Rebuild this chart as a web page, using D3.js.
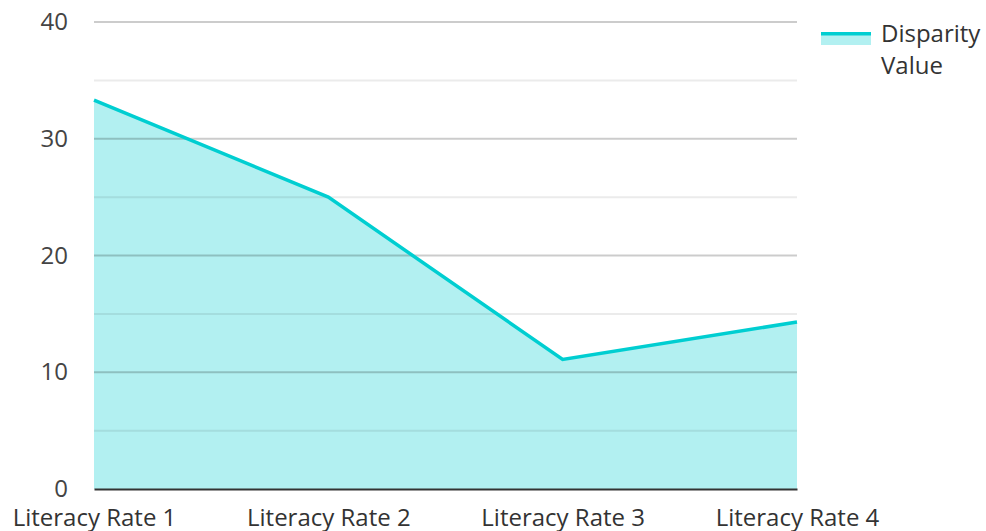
<!DOCTYPE html>
<html>
<head>
<meta charset="utf-8">
<script src="https://cdn.jsdelivr.net/npm/d3@7"></script>
<style>
  body { margin: 0; background: #fff; }
  svg { font-family: "Open Sans", "Noto Sans", sans-serif; }
</style>
</head>
<body>
<svg id="chart" width="986" height="531"></svg>
<script>
const categories = ['Literacy Rate 1', 'Literacy Rate 2', 'Literacy Rate 3', 'Literacy Rate 4'];
const values = [33.3, 25.0, 11.1, 14.3];
const seriesName = ['Disparity', 'Value'];
const majorTicks = [0, 10, 20, 30, 40];
const minorTicks = [5, 15, 25, 35];

const svg = d3.select('#chart');
const margin = { top: 22, bottom: 42, left: 94, right: 189 };
const width = 986, height = 531;
const innerWidth = width - margin.left - margin.right;
const innerHeight = height - margin.top - margin.bottom;

const data = categories.map((c, i) => ({ cat: c, value: values[i] }));

const xScale = d3.scalePoint().domain(categories).range([0, innerWidth]);
const yScale = d3.scaleLinear().domain([0, 40]).range([innerHeight, 0]);

const g = svg.append('g')
    .attr('transform', 'translate(' + margin.left + ',' + margin.top + ')');

const area = d3.area()
    .x(d => xScale(d.cat))
    .y0(yScale(0))
    .y1(d => yScale(d.value));
const line = d3.line()
    .x(d => xScale(d.cat))
    .y(d => yScale(d.value));

g.append('path').datum(data)
    .attr('d', area)
    .attr('fill', '#b2f0f1');

// gridlines over the fill
g.selectAll('.minor').data(minorTicks).enter().append('line')
    .attr('x1', 0).attr('x2', innerWidth)
    .attr('y1', d => yScale(d)).attr('y2', d => yScale(d))
    .attr('stroke', 'rgba(0,0,0,0.08)').attr('stroke-width', 2);
g.selectAll('.major').data(majorTicks.slice(1)).enter().append('line')
    .attr('x1', 0).attr('x2', innerWidth)
    .attr('y1', d => yScale(d)).attr('y2', d => yScale(d))
    .attr('stroke', 'rgba(0,0,0,0.2)').attr('stroke-width', 2);

g.append('path').datum(data)
    .attr('d', line)
    .attr('fill', 'none')
    .attr('stroke', '#00ced1')
    .attr('stroke-width', 3.5);

// x axis
const xAxis = g.append('g')
    .attr('transform', 'translate(0,' + innerHeight + ')')
    .call(d3.axisBottom(xScale).tickSize(0).tickPadding(20));
xAxis.select('.domain').attr('stroke', '#333').attr('stroke-width', 2);
xAxis.selectAll('text').attr('font-size', 24).attr('fill', '#333')
    .attr('font-family', '"Open Sans", sans-serif');

// y axis
const yAxis = g.append('g')
    .call(d3.axisLeft(yScale).tickValues(majorTicks).tickSize(0).tickPadding(26));
yAxis.select('.domain').remove();
yAxis.selectAll('text').attr('font-size', 24).attr('fill', '#444')
    .attr('font-family', '"Open Sans", sans-serif');

// legend
const legend = svg.append('g').attr('transform', 'translate(821,32)');
legend.append('rect').attr('x', 0).attr('y', 0).attr('width', 50).attr('height', 13)
    .attr('fill', '#b2f0f1');
legend.append('rect').attr('x', 0).attr('y', 0).attr('width', 50).attr('height', 3.5)
    .attr('fill', '#00ced1');
legend.append('text')
    .attr('x', 60).attr('y', 10)
    .attr('font-size', 24).attr('fill', '#333')
    .selectAll('tspan').data(seriesName).enter().append('tspan')
    .attr('x', 60).attr('dy', (d, i) => i === 0 ? 0 : 32)
    .text(d => d);
</script>
</body>
</html>
